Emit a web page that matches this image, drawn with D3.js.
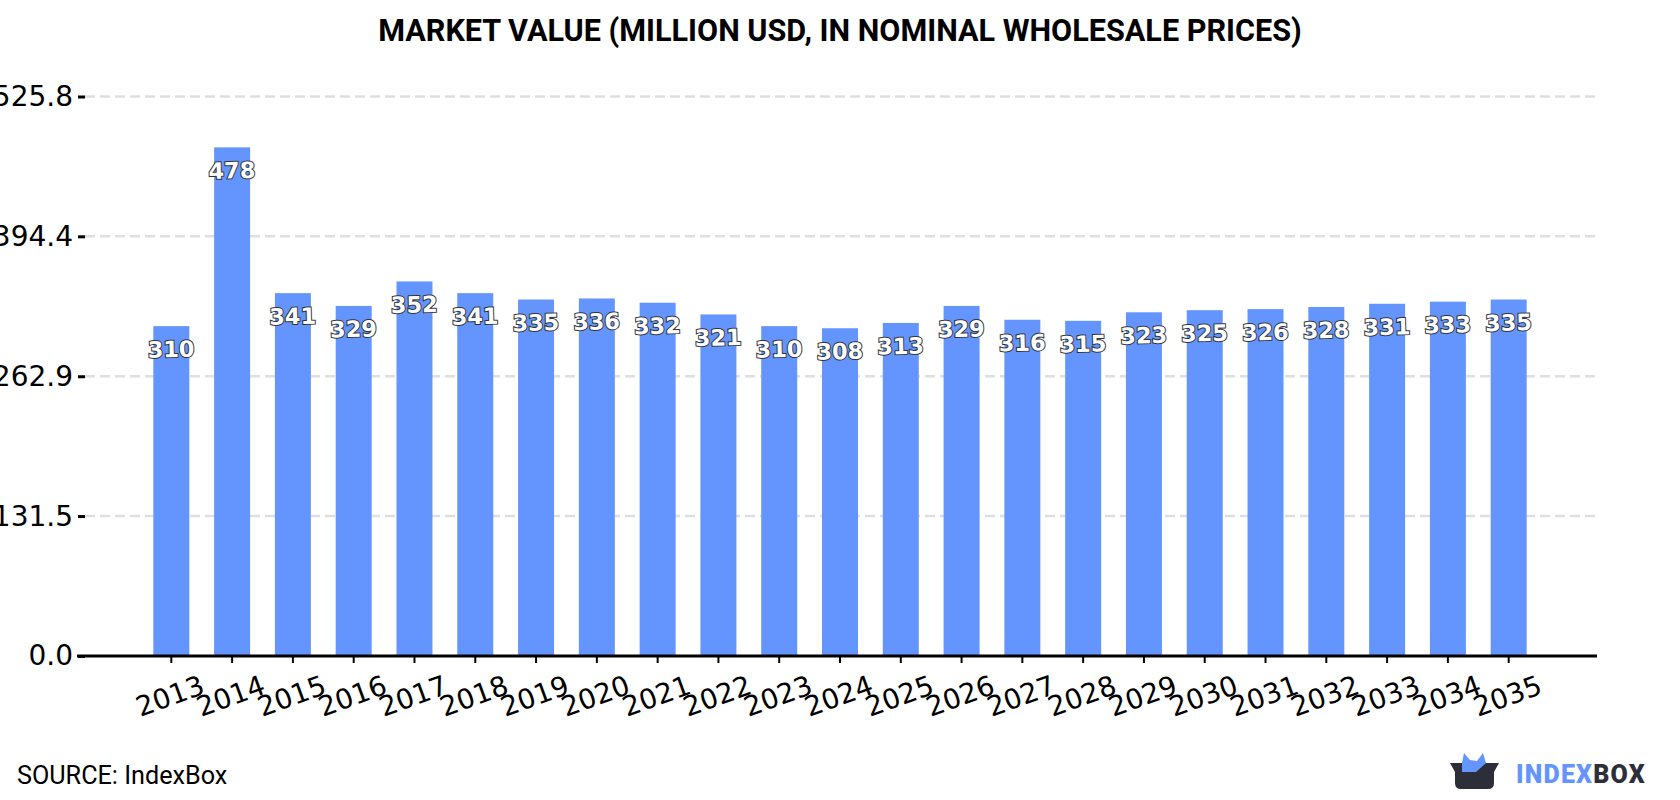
<!DOCTYPE html>
<html>
<head>
<meta charset="utf-8">
<script src="https://cdn.jsdelivr.net/npm/d3@7"></script>
<style>
  html, body { margin: 0; padding: 0; background: #fff; }
  svg { display: block; }
</style>
</head>
<body>
<svg id="chart" width="1680" height="800"></svg>
<script>
const years = ["2013","2014","2015","2016","2017","2018","2019","2020","2021","2022","2023","2024","2025","2026","2027","2028","2029","2030","2031","2032","2033","2034","2035"];
const marketValue = [310,478,341,329,352,341,335,336,332,321,310,308,313,329,316,315,323,325,326,328,331,333,335];
const yTicks = [0, 131.5, 262.9, 394.4, 525.8];
const titleText = "MARKET VALUE (MILLION USD, IN NOMINAL WHOLESALE PRICES)";
const sourceText = "SOURCE: IndexBox";

const svg = d3.select("#chart");
const barColor = "#6495fe";

const x = d3.scaleBand().domain(years).range([85, 1595]).paddingInner(0.408).paddingOuter(1.124);
const y = d3.scaleLinear().domain([0, 525.8]).range([656, 96.5]);

// Title
svg.append("text").attr("x", 840).attr("y", 41).attr("text-anchor", "middle")
  .attr("font-family", "Roboto").attr("font-weight", 700).attr("font-size", 30.6)
  .attr("fill", "#000").text(titleText);

// Dashed gridlines, drawn beneath the bars
svg.append("g").selectAll("line").data(yTicks.slice(1)).join("line")
  .attr("x1", 85).attr("x2", 1597)
  .attr("y1", d => y(d)).attr("y2", d => y(d))
  .attr("stroke", "#dfdfdf").attr("stroke-width", 2.6).attr("stroke-dasharray", "10 5");

// Bars
svg.append("g").selectAll("rect").data(marketValue).join("rect")
  .attr("x", (d, i) => x(years[i]))
  .attr("width", x.bandwidth())
  .attr("y", d => y(d))
  .attr("height", d => y(0) - y(d))
  .attr("fill", barColor);

// Y axis
const yAxis = svg.append("g").attr("transform", "translate(85,0)")
  .call(d3.axisLeft(y).tickValues(yTicks).tickFormat(d3.format(".1f")).tickSize(7).tickPadding(5));
yAxis.select(".domain").remove();
yAxis.selectAll("line").attr("stroke", "#000").attr("stroke-width", 3);
yAxis.selectAll("text").attr("font-family", "DejaVu Sans").attr("font-size", 28).attr("fill", "#000");

// X axis
const xAxis = svg.append("g").attr("transform", "translate(0,656)")
  .call(d3.axisBottom(x).tickSize(7).tickSizeOuter(0));
xAxis.select(".domain").attr("stroke", "#000").attr("stroke-width", 3)
  .attr("d", "M77,0H1597");
xAxis.selectAll("line").attr("stroke", "#000").attr("stroke-width", 2);
xAxis.selectAll("text")
  .attr("font-family", "DejaVu Sans").attr("font-size", 27.6).attr("fill", "#000")
  .attr("text-anchor", "middle")
  .attr("y", 0).attr("dy", 0)
  .attr("transform", "translate(2,49) rotate(-20)");

// Value labels sit just under each bar top
svg.append("g").selectAll("text").data(marketValue).join("text")
  .attr("transform", (d, i) => `translate(${x(years[i]) + x.bandwidth() / 2},${y(d) + 31}) rotate(-1.5)`)
  .attr("text-anchor", "middle")
  .attr("font-family", "DejaVu Sans").attr("font-weight", 700).attr("font-size", 22.4)
  .attr("fill", "#fff").attr("stroke", "#333").attr("stroke-width", 2)
  .attr("paint-order", "stroke")
  .text(d => d);

// Source note
svg.append("text").attr("x", 17).attr("y", 784)
  .attr("font-family", "Roboto").attr("font-size", 25.2).attr("fill", "#000").text(sourceText);

// Brand mark
const logo = svg.append("g");
logo.append("path").attr("fill", "#6495fe")
  .attr("d", "M1462,763L1464,753L1470,760L1477,761L1483,753L1486,763L1476,772L1462,771Z");
logo.append("path").attr("fill", "#2c2e3a")
  .attr("d", "M1450,763H1499L1494,772V783Q1494,789 1488,789H1461Q1455,789 1455,783V772Z");
logo.append("path").attr("fill", "#6495fe")
  .attr("d", "M1462,763H1486L1476,772H1462Z");
const brand = svg.append("text").attr("x", 1516).attr("y", 783)
  .attr("font-family", "Roboto").attr("font-weight", 900).attr("font-size", 25).attr("letter-spacing", 1.2);
brand.append("tspan").attr("fill", "#6495fe").text("INDEX");
brand.append("tspan").attr("fill", "#2c2e3a").text("BOX");
</script>
</body>
</html>
